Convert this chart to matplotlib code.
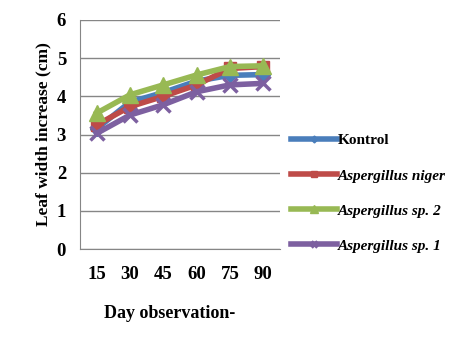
import matplotlib
matplotlib.use("Agg")
import matplotlib.pyplot as plt

# data
days = ["15", "30", "45", "60", "75", "90"]
kontrol = [3.15, 3.85, 4.10, 4.40, 4.55, 4.57]
niger = [3.25, 3.73, 4.00, 4.30, 4.73, 4.78]
sp2 = [3.56, 4.04, 4.30, 4.56, 4.78, 4.80]
sp1 = [3.03, 3.51, 3.78, 4.12, 4.30, 4.34]

series = [
    ("Kontrol", kontrol, "#4A7EBB", "D", 7, "normal"),
    ("Aspergillus niger", niger, "#BE4B48", "s", 9, "italic"),
    ("Aspergillus sp. 2", sp2, "#98B954", "^", 11, "italic"),
    ("Aspergillus sp. 1", sp1, "#7D60A0", "x", 10, "italic"),
]

plt.rcParams["font.family"] = ["Liberation Serif", "DejaVu Serif"]
plt.rcParams["font.weight"] = "bold"

fig = plt.figure(figsize=(4.74, 3.43), dpi=100)
ax = fig.add_axes([80 / 474, 1 - 249 / 343, 200 / 474, 229 / 343])

x = list(range(len(days)))
handles = []
for name, vals, col, mk, ms, style in series:
    h, = ax.plot(x, vals, color=col, lw=4, marker=mk, markersize=ms,
                 markeredgewidth=2.5 if mk == "x" else 1, markeredgecolor=col,
                 markerfacecolor=col, label=name)
    handles.append(h)

ax.set_xlim(-0.5, 5.5)
ax.set_ylim(0, 6)
ax.set_xticks(x)
ax.set_xticklabels(days)
ax.set_yticks(range(7))
ax.grid(axis="y", color="#868686", lw=1)
ax.set_axisbelow(True)
for s in ["top", "right"]:
    ax.spines[s].set_visible(False)
ax.spines["left"].set_color("#868686")
ax.spines["bottom"].set_color("#868686")
ax.tick_params(axis="both", length=0, labelsize=13.5)
ax.tick_params(axis="x", pad=12)
ax.tick_params(axis="y", pad=10)
ax.set_ylabel("Leaf width increase (cm)", fontsize=12.5, fontweight="bold", labelpad=4)
fig.text(170 / 474, 1 - 313 / 343, "Day observation-", fontsize=13,
         fontweight="bold", ha="center", va="center")

leg = fig.legend(handles=handles, loc="upper left",
                 bbox_to_anchor=(277 / 474, 1 - 120 / 343), frameon=False,
                 fontsize=11, handlelength=3.0, labelspacing=1.4,
                 handletextpad=0.1, markerscale=0.5)
for t, (_, _, _, _, _, style) in zip(leg.get_texts(), series):
    t.set_fontstyle(style)
    t.set_fontweight("bold")

fig.savefig("out.png", dpi=100)
